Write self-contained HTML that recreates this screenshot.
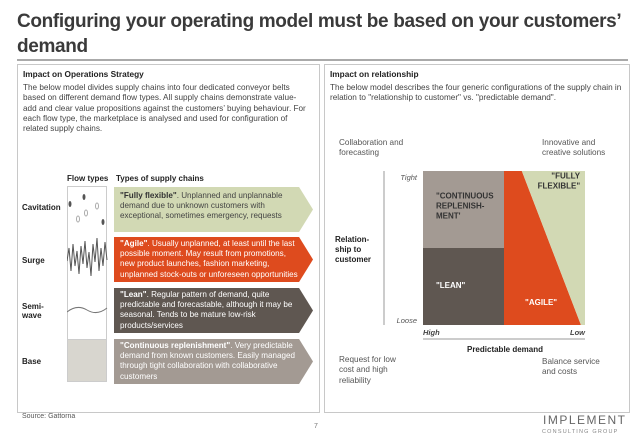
<!DOCTYPE html>
<html><head><meta charset="utf-8"><style>
body{margin:0;width:638px;height:442px;background:#fff;font-family:"Liberation Sans",sans-serif;color:#333;position:relative;overflow:hidden}
.a{position:absolute}
.t{font-size:19px;font-weight:bold;color:#3a3a3a;left:17px;top:9px;line-height:25px;width:625px;letter-spacing:-0.35px}
.box{border:1px solid #c8c8c8}
.h{font-size:8.3px;font-weight:bold;color:#222}
.p{font-size:8.2px;line-height:10.3px;color:#444}
.lab{font-size:8px;font-weight:bold;color:#222;line-height:9px}
.arr{position:absolute;left:114px;width:199px;height:45px;clip-path:polygon(0 0,93% 0,100% 50%,93% 100%,0 100%);font-size:8.1px;line-height:10.2px;padding:2px 14px 0 6px;box-sizing:border-box;color:#fff;overflow:hidden}
.arr b{color:#fff}
</style></head><body>
<div class="a t">Configuring your operating model must be based on your customers’ demand</div>
<div class="a" style="left:17px;top:59px;width:611px;height:2px;background:#aaa"></div>

<div class="a box" style="left:17px;top:64px;width:301px;height:347px"></div>
<div class="a box" style="left:324px;top:64px;width:304px;height:347px"></div>

<div class="a h" style="left:23px;top:69px">Impact on Operations Strategy</div>
<div class="a p" style="left:23px;top:83px;width:286px">The below model divides supply chains into four dedicated conveyor belts based on different demand flow types. All supply chains demonstrate value-add and clear value propositions against the customers’ buying behaviour. For each flow type, the marketplace is analysed and used for configuration of related supply chains.</div>

<div class="a lab" style="left:67px;top:174px">Flow types</div>
<div class="a lab" style="left:116px;top:174px">Types of supply chains</div>

<div class="a" style="left:67px;top:186px;width:40px;height:196px;border:1px solid #ccc;box-sizing:border-box"></div>
<div class="a" style="left:67px;top:339px;width:40px;height:43px;background:#d8d6cf;border:1px solid #ccc;box-sizing:border-box"></div>
<svg class="a" style="left:67px;top:186px" width="41" height="150">
<ellipse cx="3" cy="18" rx="1.5" ry="3" fill="#555"/><ellipse cx="17" cy="11" rx="1.5" ry="3" fill="#555"/><ellipse cx="30" cy="20" rx="1.5" ry="3" fill="none" stroke="#aaa"/><ellipse cx="19" cy="27" rx="1.5" ry="3" fill="none" stroke="#aaa"/><ellipse cx="11" cy="33" rx="1.5" ry="3" fill="none" stroke="#aaa"/><ellipse cx="36" cy="36" rx="1.5" ry="3" fill="#555"/>
<polyline points="0,75 2,62 4,85 6,58 8,80 10,65 12,88 14,60 16,78 18,55 20,82 22,66 24,90 26,58 28,76 30,52 32,85 34,62 36,80 38,56 40,74" fill="none" stroke="#555" stroke-width="1"/>
<path d="M0,126 Q10,118 20,124 T40,122" fill="none" stroke="#777"/>
</svg>

<div class="a lab" style="left:22px;top:203px">Cavitation</div>
<div class="a lab" style="left:22px;top:256px">Surge</div>
<div class="a lab" style="left:22px;top:302px">Semi-<br>wave</div>
<div class="a lab" style="left:22px;top:357px">Base</div>

<div class="arr" style="top:187px;background:#d2d9b4;color:#444;padding-top:4px"><b style="color:#333">"Fully flexible"</b>. Unplanned and unplannable demand due to unknown customers with exceptional, sometimes emergency, requests</div>
<div class="arr" style="top:237px;background:#de4b1e"><b>"Agile"</b>. Usually unplanned, at least until the last possible moment. May result from promotions, new product launches, fashion marketing, unplanned stock-outs or unforeseen opportunities</div>
<div class="arr" style="top:288px;background:#5f5751"><b>"Lean"</b>. Regular pattern of demand, quite predictable and forecastable, although it may be seasonal. Tends to be mature low-risk products/services</div>
<div class="arr" style="top:339px;background:#a39a93"><b>"Continuous replenishment"</b>. Very predictable demand from known customers. Easily managed through tight collaboration with collaborative customers</div>

<div class="a h" style="left:330px;top:69px">Impact on relationship</div>
<div class="a p" style="left:330px;top:83px;width:296px">The below model describes the four generic configurations of the supply chain in relation to "relationship to customer" vs. "predictable demand".</div>

<div class="a p" style="left:339px;top:138px;color:#555">Collaboration and<br>forecasting</div>
<div class="a p" style="left:542px;top:138px;color:#555">Innovative and<br>creative solutions</div>
<div class="a p" style="left:339px;top:355px;color:#555">Request for low<br>cost and high<br>reliability</div>
<div class="a p" style="left:542px;top:357px;color:#555">Balance service<br>and costs</div>
<div class="a lab" style="left:335px;top:235px;font-size:8px;line-height:10px">Relation-<br>ship to<br>customer</div>

<svg class="a" style="left:0;top:0" width="638" height="442" id="chart"></svg>
<div class="a p" style="left:22px;top:412px;font-size:7px;color:#555">Source: Gattorna</div>
<div class="a p" style="left:314px;top:422px;font-size:7px;color:#777">7</div>
<div class="a" style="left:543px;top:413px;font-size:12px;letter-spacing:1.5px;color:#666">IMPLEMENT</div>
<div class="a" style="left:542px;top:429px;font-size:5.5px;letter-spacing:1.2px;color:#888">CONSULTING GROUP</div>

<script>
// x: predictability 0 (High) .. 1 (Low); y: relationship 0 (Loose) .. 1 (Tight)
const regionNames=["continuous","lean","agile","fully-flexible"];
const regionColors=["#a39a93","#5f5751","#de4b1e","#d2d9b4"];
const regionPolys=[
 [[0,0.5],[0.5,0.5],[0.5,1],[0,1]],
 [[0,0],[0.5,0],[0.5,0.5],[0,0.5]],
 [[0.5,0],[0.975,0],[0.61,1],[0.5,1]],
 [[0.61,1],[1,1],[1,0],[0.975,0]]
];
const regionLabels=[["\"CONTINUOUS","REPLENISH-","MENT'"],["\"LEAN\""],["\"AGILE\""],["\"FULLY","FLEXIBLE\""]];
const labelPos=[[0.08,0.82],[0.08,0.24],[0.63,0.13],[0.97,0.95]];
const xTicks=["High","Low"],yTicks=["Loose","Tight"];
const X0=423,X1=585,Y0=325,Y1=171;
const sx=v=>X0+v*(X1-X0), sy=v=>Y0-v*(Y0-Y1);
const svg=document.getElementById('chart');const NS="http://www.w3.org/2000/svg";
function mk(t,a){const e=document.createElementNS(NS,t);for(const k in a)e.setAttribute(k,a[k]);svg.appendChild(e);return e;}
regionPolys.forEach((p,i)=>{
 const e=mk('polygon',{points:p.map(q=>sx(q[0])+','+sy(q[1])).join(' '),fill:regionColors[i]});
 
 
 const anchor=i==3?'end':'start';
 regionLabels[i].forEach((l,j)=>{
  const t=mk('text',{x:sx(labelPos[i][0]),y:sy(labelPos[i][1])+j*10,'font-size':8,'font-weight':'bold','font-family':'Liberation Sans',fill:i==0||i==3?'#333':'#fff','text-anchor':anchor});
  t.textContent=l;
  
  
 });
});
const ya=mk('line',{x1:384,y1:171,x2:384,y2:325,stroke:'#999','stroke-width':1});

const xa=mk('line',{x1:423,y1:339,x2:585,y2:339,stroke:'#999','stroke-width':1});

yTicks.forEach((l,i)=>{const t=mk('text',{x:417,y:sy(i)+(i?9:-2),'font-size':7.5,'font-style':'italic','font-family':'Liberation Sans',fill:'#555','text-anchor':'end'});t.textContent=l;
 });
xTicks.forEach((l,i)=>{const t=mk('text',{x:sx(i),y:335,'font-size':7.5,'font-style':'italic','font-weight':'bold','font-family':'Liberation Sans',fill:'#444','text-anchor':i?'end':'start'});t.textContent=l;
 });
const xt=mk('text',{x:505,y:352,'font-size':8,'font-weight':'bold','font-family':'Liberation Sans',fill:'#222','text-anchor':'middle'});xt.textContent='Predictable demand';

</script>
</body></html>
